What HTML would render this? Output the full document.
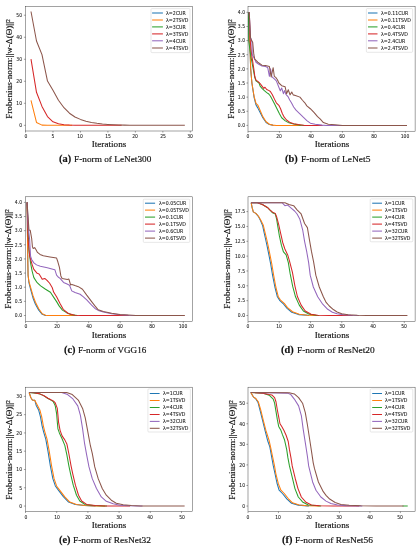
<!DOCTYPE html>
<html><head><meta charset="utf-8"><title>F-norm plots</title>
<style>html,body{margin:0;padding:0;background:#fff;}
body{position:relative;width:420px;height:550px;overflow:hidden;}
svg{display:block;position:absolute;left:0;top:0;}
.tk,.lg,.sr,.sb{position:absolute;transform-origin:0 0;white-space:nowrap;line-height:1;}
.tk,.lg{font-family:"DejaVu Sans",sans-serif;color:#1a1a1a;-webkit-text-stroke:0.8px #1a1a1a;}
.sr,.sb{font-family:"Liberation Serif",serif;color:#111;-webkit-text-stroke:1.5px #111;}
.sb{font-weight:bold;}</style></head>
<body><svg width="420" height="550" viewBox="0 0 420 550">
<rect width="420" height="550" fill="#fff"/>
<clipPath id="clipa"><rect x="25.5" y="6.4" width="167.00" height="124.60"/></clipPath>
<g clip-path="url(#clipa)" fill="none" stroke-width="1.05" stroke-linejoin="round" stroke-linecap="butt">
<polyline stroke="#ff7f0e" points="30.99,100.45 36.49,122.47 41.98,125.11 47.48,125.29 52.97,125.33 72.20,125.33"/>
<polyline stroke="#d62728" points="30.99,59.05 36.49,92.30 41.98,106.39 47.48,116.52 52.97,121.81 58.46,123.79 63.96,124.67 69.45,125.00 74.95,125.15 80.44,125.24 85.93,125.29 91.43,125.33 121.64,125.33"/>
<polyline stroke="#8c564b" points="30.99,11.49 36.49,40.99 41.98,54.65 47.48,81.07 52.97,90.32 58.46,100.23 63.96,107.71 69.45,113.22 74.95,116.96 80.44,119.38 85.93,121.15 91.43,122.47 96.92,123.35 102.42,124.01 107.91,124.45 113.40,124.78 118.90,125.00 124.39,125.11 129.89,125.22 135.38,125.26 140.87,125.33 184.83,125.33"/>
</g>
<rect x="25.5" y="6.4" width="167.00" height="124.60" fill="none" stroke="#333" stroke-width="0.45"/>
<path d="M25.50,131.0v1.6 M52.97,131.0v1.6 M80.44,131.0v1.6 M107.91,131.0v1.6 M135.38,131.0v1.6 M162.85,131.0v1.6 M190.32,131.0v1.6 M25.5,125.33h-1.6 M25.5,103.31h-1.6 M25.5,81.29h-1.6 M25.5,59.27h-1.6 M25.5,37.25h-1.6 M25.5,15.23h-1.6" stroke="#333" stroke-width="0.45" fill="none"/>
<rect x="151" y="8.6" width="39.00" height="44.00" rx="0.9" fill="#fff" fill-opacity="0.8" stroke="#ccc" stroke-width="0.45"/>
<line x1="152.1" y1="13" x2="162.9" y2="13" stroke="#1f77b4" stroke-width="1.05"/>
<line x1="152.1" y1="20" x2="162.9" y2="20" stroke="#ff7f0e" stroke-width="1.05"/>
<line x1="152.1" y1="26.9" x2="162.9" y2="26.9" stroke="#2ca02c" stroke-width="1.05"/>
<line x1="152.1" y1="33.9" x2="162.9" y2="33.9" stroke="#d62728" stroke-width="1.05"/>
<line x1="152.1" y1="40.8" x2="162.9" y2="40.8" stroke="#9467bd" stroke-width="1.05"/>
<line x1="152.1" y1="48" x2="162.9" y2="48" stroke="#8c564b" stroke-width="1.05"/>
<clipPath id="clipb"><rect x="248.0" y="6.5" width="167.10" height="124.70"/></clipPath>
<g clip-path="url(#clipb)" fill="none" stroke-width="1.05" stroke-linejoin="round" stroke-linecap="butt">
<polyline stroke="#1f77b4" points="249.26,12.32 249.81,40.59 250.20,54.44 250.68,68.86 251.31,76.21 251.94,83.28 254.14,97.70 256.03,105.05 257.76,107.87 260.28,112.68 262.80,117.77 266.10,122.57 269.41,124.55 272.71,125.12 273.50,125.40"/>
<polyline stroke="#ff7f0e" points="249.26,12.32 249.81,40.59 250.20,54.44 250.68,68.86 251.31,76.21 251.94,83.28 254.14,96.56 256.03,103.35 257.76,105.05 260.28,110.70 262.80,116.64 266.10,121.72 269.41,124.27 272.71,125.12 276.33,125.40 300.73,125.40"/>
<polyline stroke="#2ca02c" points="248.47,12.32 248.71,40.59 250.52,54.44 253.19,68.86 254.82,77.62 256.00,80.73 259.02,83.00 260.12,86.10 262.01,88.37 264.37,90.63 266.73,92.61 268.78,94.02 270.35,96.00 272.24,99.39 274.60,103.91 276.96,108.72 279.32,113.53 281.68,117.77 285.30,120.88 288.92,122.86 293.65,123.99 299.94,125.12 304.66,125.40 305.45,125.40"/>
<polyline stroke="#d62728" points="249.26,12.32 250.20,40.59 251.62,54.44 253.82,68.86 254.82,76.49 256.00,80.17 258.39,81.86 260.12,83.56 262.01,86.10 263.74,88.37 265.00,87.24 266.73,89.50 269.09,90.63 270.35,91.48 272.24,94.59 274.60,99.39 276.33,102.78 278.85,105.33 280.58,108.72 282.31,113.53 284.20,117.20 286.56,120.03 290.18,122.57 293.65,123.70 298.37,124.55 304.66,125.40 322.76,125.40"/>
<polyline stroke="#9467bd" points="249.26,12.32 250.05,29.28 250.52,37.76 251.94,41.44 252.25,54.44 255.24,60.38 256.00,62.22 258.39,64.05 261.99,66.03 265.42,66.60 267.68,67.45 269.41,76.30 270.51,68.86 272.00,76.86 273.18,77.91 274.60,79.15 276.33,80.87 278.28,85.71 280.27,90.85 281.68,88.00 283.42,93.71 284.52,90.57 285.93,94.30 287.98,96.56 289.71,99.96 291.44,102.78 293.65,107.02 296.01,110.13 299.63,113.53 303.25,117.20 306.87,120.59 310.33,123.14 315.21,124.27 321.98,125.12 326.70,125.40 343.23,125.40"/>
<polyline stroke="#8c564b" points="249.26,12.32 250.05,29.28 250.52,37.76 251.62,40.59 252.72,42.57 253.82,54.44 254.82,59.25 256.00,60.38 257.76,62.22 261.99,65.18 265.42,65.47 269.41,66.60 271.14,76.86 273.18,67.73 274.29,76.30 275.70,77.34 277.43,79.72 278.85,83.00 281.68,85.71 285.15,86.87 286.56,93.71 288.29,89.72 290.03,94.87 291.76,92.04 293.17,94.87 295.38,95.43 299.94,97.13 302.46,100.24 304.82,102.78 306.87,105.89 310.33,108.72 313.95,112.40 317.57,116.64 320.09,118.90 323.39,122.57 328.27,124.27 335.04,124.83 342.44,125.40 406.97,125.40"/>
</g>
<rect x="248.0" y="6.5" width="167.10" height="124.70" fill="none" stroke="#333" stroke-width="0.45"/>
<path d="M248.00,131.2v1.6 M279.48,131.2v1.6 M310.96,131.2v1.6 M342.44,131.2v1.6 M373.92,131.2v1.6 M405.40,131.2v1.6 M248.0,125.40h-1.6 M248.0,111.27h-1.6 M248.0,97.13h-1.6 M248.0,83.00h-1.6 M248.0,68.86h-1.6 M248.0,54.73h-1.6 M248.0,40.59h-1.6 M248.0,26.46h-1.6 M248.0,12.32h-1.6" stroke="#333" stroke-width="0.45" fill="none"/>
<rect x="366.4" y="8.6" width="46.20" height="43.70" rx="0.9" fill="#fff" fill-opacity="0.8" stroke="#ccc" stroke-width="0.45"/>
<line x1="368" y1="13" x2="377.5" y2="13" stroke="#1f77b4" stroke-width="1.05"/>
<line x1="368" y1="20" x2="377.5" y2="20" stroke="#ff7f0e" stroke-width="1.05"/>
<line x1="368" y1="26.9" x2="377.5" y2="26.9" stroke="#2ca02c" stroke-width="1.05"/>
<line x1="368" y1="33.9" x2="377.5" y2="33.9" stroke="#d62728" stroke-width="1.05"/>
<line x1="368" y1="40.8" x2="377.5" y2="40.8" stroke="#9467bd" stroke-width="1.05"/>
<line x1="368" y1="48" x2="377.5" y2="48" stroke="#8c564b" stroke-width="1.05"/>
<clipPath id="clipc"><rect x="25.5" y="196.8" width="167.00" height="124.70"/></clipPath>
<g clip-path="url(#clipc)" fill="none" stroke-width="1.05" stroke-linejoin="round" stroke-linecap="butt">
<polyline stroke="#1f77b4" points="27.08,202.38 27.55,241.97 27.87,264.60 28.10,275.34 28.97,282.98 30.55,289.20 33.00,297.97 35.44,304.19 38.76,310.13 42.23,314.37 45.54,315.50 46.33,315.50"/>
<polyline stroke="#ff7f0e" points="27.08,202.38 27.55,241.97 27.87,264.60 28.10,275.34 28.97,281.56 30.55,287.22 33.00,295.70 35.44,302.21 38.76,308.71 42.23,313.80 45.54,315.22 47.59,315.50 75.68,315.50"/>
<polyline stroke="#2ca02c" points="27.08,202.38 28.10,230.09 28.97,249.89 30.55,262.90 32.13,271.10 33.86,277.60 37.18,282.70 40.65,285.81 45.54,289.20 50.43,292.31 53.75,297.40 56.59,301.64 59.11,305.88 62.43,310.13 66.53,312.67 71.58,314.65 77.57,315.50"/>
<polyline stroke="#d62728" points="27.08,202.38 28.10,239.99 29.76,256.39 32.13,264.60 33.86,269.40 37.18,273.36 39.07,273.93 40.33,275.91 42.23,279.30 44.75,278.45 47.28,280.72 49.64,283.26 52.17,287.50 53.75,292.31 56.59,296.84 59.90,303.34 63.21,309.28 68.26,313.52 74.89,315.22 80.73,315.50 128.86,315.50"/>
<polyline stroke="#9467bd" points="27.08,202.38 28.34,228.40 29.60,239.14 30.55,256.11 31.65,259.51 33.86,262.90 36.55,264.88 40.33,266.29 47.28,267.71 53.75,269.40 54.85,269.69 56.59,275.06 58.16,277.04 60.06,278.45 63.53,282.41 66.53,283.83 69.53,285.24 71.74,290.90 75.05,292.59 80.10,294.29 83.41,296.84 86.73,299.95 91.62,305.04 94.93,308.43 98.25,310.41 103.30,312.11 111.66,313.80 120.18,314.65 128.07,315.22 135.96,315.50 136.75,315.50"/>
<polyline stroke="#8c564b" points="27.08,202.38 28.97,230.09 30.23,230.38 31.65,238.30 32.44,246.78 33.23,248.48 34.65,247.63 35.76,249.32 37.49,252.44 40.02,254.42 43.33,255.83 49.96,256.96 56.59,258.09 57.85,261.77 59.43,267.42 60.85,275.91 62.11,278.45 64.79,279.05 67.32,279.58 68.90,279.05 70.63,285.01 71.89,284.39 74.89,285.52 78.36,286.65 82.47,289.20 86.73,295.14 91.62,301.64 94.93,305.88 98.25,309.84 103.30,311.54 111.66,313.24 120.02,314.51 128.39,314.93 135.96,315.50 184.88,315.50"/>
</g>
<rect x="25.5" y="196.8" width="167.00" height="124.70" fill="none" stroke="#333" stroke-width="0.45"/>
<path d="M25.50,321.5v1.6 M57.06,321.5v1.6 M88.62,321.5v1.6 M120.18,321.5v1.6 M151.74,321.5v1.6 M183.30,321.5v1.6 M25.5,315.50h-1.6 M25.5,301.36h-1.6 M25.5,287.22h-1.6 M25.5,273.08h-1.6 M25.5,258.94h-1.6 M25.5,244.80h-1.6 M25.5,230.66h-1.6 M25.5,216.52h-1.6 M25.5,202.38h-1.6" stroke="#333" stroke-width="0.45" fill="none"/>
<rect x="143.3" y="199.2" width="46.50" height="43.20" rx="0.9" fill="#fff" fill-opacity="0.8" stroke="#ccc" stroke-width="0.45"/>
<line x1="145" y1="203.2" x2="155.1" y2="203.2" stroke="#1f77b4" stroke-width="1.05"/>
<line x1="145" y1="210.1" x2="155.1" y2="210.1" stroke="#ff7f0e" stroke-width="1.05"/>
<line x1="145" y1="217.1" x2="155.1" y2="217.1" stroke="#2ca02c" stroke-width="1.05"/>
<line x1="145" y1="224.1" x2="155.1" y2="224.1" stroke="#d62728" stroke-width="1.05"/>
<line x1="145" y1="231.1" x2="155.1" y2="231.1" stroke="#9467bd" stroke-width="1.05"/>
<line x1="145" y1="238.1" x2="155.1" y2="238.1" stroke="#8c564b" stroke-width="1.05"/>
<clipPath id="clipd"><rect x="248.0" y="196.8" width="167.10" height="124.70"/></clipPath>
<g clip-path="url(#clipd)" fill="none" stroke-width="1.05" stroke-linejoin="round" stroke-linecap="butt">
<polyline stroke="#1f77b4" points="251.13,202.70 252.13,207.68 253.31,211.90 255.81,213.38 258.32,216.35 260.50,220.51 262.69,225.85 263.94,231.79 265.66,239.51 267.22,246.63 268.79,254.35 270.66,263.85 272.54,275.13 274.88,287.00 277.38,296.80 279.89,300.66 283.64,304.22 287.07,308.38 291.76,312.23 298.64,314.61 307.39,315.32 308.96,315.50"/>
<polyline stroke="#ff7f0e" points="251.13,202.70 252.13,207.68 253.31,211.90 255.81,213.38 258.32,216.00 260.82,220.21 263.32,225.26 264.88,231.79 266.76,239.51 268.32,246.63 269.88,254.35 271.76,263.85 273.63,275.13 275.82,287.00 278.32,296.80 280.51,300.06 284.26,303.45 287.54,307.60 292.55,311.76 299.27,314.31 307.39,315.20 316.77,315.50 317.40,315.50"/>
<polyline stroke="#2ca02c" points="251.13,202.70 257.38,202.70 262.38,204.48 267.38,207.45 269.82,209.82 272.57,212.79 275.29,213.98 276.67,219.32 278.01,227.63 279.39,235.94 281.45,245.44 283.48,251.97 286.14,254.94 288.33,262.66 290.20,273.94 292.70,286.41 295.52,296.80 299.27,305.11 303.33,310.93 309.27,314.31 315.83,315.20 319.27,315.50"/>
<polyline stroke="#d62728" points="251.13,202.70 257.38,202.70 262.38,204.48 267.38,207.45 269.82,209.82 272.57,212.20 275.29,213.38 276.67,216.95 278.70,224.66 280.82,234.16 282.70,242.47 284.89,249.01 287.70,254.94 289.58,261.47 292.39,272.16 294.89,285.81 297.39,296.50 301.14,305.11 305.21,310.93 311.15,314.31 317.71,315.20 329.28,315.50 352.72,315.50"/>
<polyline stroke="#9467bd" points="251.13,202.70 282.07,202.70 284.89,205.67 287.70,205.07 291.76,208.63 294.58,211.01 297.08,213.98 299.89,219.32 302.70,230.01 304.58,241.29 306.77,251.97 308.64,262.66 310.21,275.13 313.33,287.00 317.71,296.80 322.71,304.22 327.71,309.27 332.40,312.23 337.09,313.72 342.72,314.61 351.16,315.20 358.97,315.50"/>
<polyline stroke="#8c564b" points="251.13,202.70 284.89,202.70 288.95,204.48 293.64,205.67 297.08,209.82 301.14,213.98 304.58,223.48 307.39,227.63 309.58,240.69 311.46,251.38 313.65,262.07 315.83,275.13 319.27,287.00 323.34,296.80 326.15,302.44 329.28,306.00 333.34,309.56 337.09,311.94 341.78,313.72 348.03,314.73 357.41,315.26 366.79,315.50 407.43,315.50"/>
</g>
<rect x="248.0" y="196.8" width="167.10" height="124.70" fill="none" stroke="#333" stroke-width="0.45"/>
<path d="M248.00,321.5v1.6 M279.26,321.5v1.6 M310.52,321.5v1.6 M341.78,321.5v1.6 M373.04,321.5v1.6 M404.30,321.5v1.6 M248.0,315.50h-1.6 M248.0,300.66h-1.6 M248.0,285.81h-1.6 M248.0,270.97h-1.6 M248.0,256.13h-1.6 M248.0,241.29h-1.6 M248.0,226.44h-1.6 M248.0,211.60h-1.6" stroke="#333" stroke-width="0.45" fill="none"/>
<rect x="370.2" y="198.9" width="42.60" height="42.90" rx="0.9" fill="#fff" fill-opacity="0.8" stroke="#ccc" stroke-width="0.45"/>
<line x1="372.2" y1="203.2" x2="382" y2="203.2" stroke="#1f77b4" stroke-width="1.05"/>
<line x1="372.2" y1="210.1" x2="382" y2="210.1" stroke="#ff7f0e" stroke-width="1.05"/>
<line x1="372.2" y1="217.1" x2="382" y2="217.1" stroke="#2ca02c" stroke-width="1.05"/>
<line x1="372.2" y1="224.1" x2="382" y2="224.1" stroke="#d62728" stroke-width="1.05"/>
<line x1="372.2" y1="231.1" x2="382" y2="231.1" stroke="#9467bd" stroke-width="1.05"/>
<line x1="372.2" y1="238.1" x2="382" y2="238.1" stroke="#8c564b" stroke-width="1.05"/>
<clipPath id="clipe"><rect x="25.5" y="387.2" width="167.00" height="124.20"/></clipPath>
<g clip-path="url(#clipe)" fill="none" stroke-width="1.05" stroke-linejoin="round" stroke-linecap="butt">
<polyline stroke="#1f77b4" points="29.12,392.46 30.80,397.47 32.36,400.03 34.86,400.39 36.11,405.14 38.60,409.90 40.48,416.84 42.04,425.62 43.60,431.83 45.78,439.15 47.96,451.21 50.34,465.83 52.83,478.63 55.33,485.94 58.57,490.33 63.56,496.91 68.56,502.03 75.26,504.40 84.78,505.57 94.14,505.98 95.70,506.05"/>
<polyline stroke="#ff7f0e" points="29.12,392.46 30.80,397.47 32.36,400.03 34.86,400.39 37.36,405.14 39.85,409.90 41.72,416.84 43.28,425.62 44.84,431.83 47.03,439.15 49.21,451.21 51.58,465.83 54.08,478.63 56.58,485.94 59.82,490.33 64.81,496.91 69.80,502.03 76.51,504.40 84.78,505.57 94.14,505.98 103.50,506.05 105.06,506.05"/>
<polyline stroke="#2ca02c" points="29.12,392.46 33.61,392.90 39.23,393.81 43.60,395.64 47.96,398.56 51.40,400.39 53.21,401.49 55.26,405.88 56.64,413.92 57.32,422.33 57.95,428.91 59.38,432.93 62.07,438.78 64.81,445.36 66.87,454.87 68.87,465.83 70.74,474.61 73.24,485.21 76.51,495.23 79.79,501.04 84.78,504.40 93.20,505.57 103.50,505.98 106.93,506.05"/>
<polyline stroke="#d62728" points="29.12,392.46 33.61,392.82 39.23,393.63 43.60,395.46 47.96,398.20 51.40,400.03 53.58,401.12 55.26,402.95 57.32,408.43 57.95,415.38 58.57,422.33 60.07,430.37 62.07,435.85 64.81,439.88 66.87,443.90 68.87,453.77 71.05,465.83 72.92,474.61 75.42,485.21 78.54,495.23 81.66,501.04 86.65,504.40 95.08,505.57 105.37,505.98 115.98,506.05 130.02,506.05"/>
<polyline stroke="#9467bd" points="29.12,392.46 61.69,392.46 67.62,394.54 72.92,398.93 77.76,405.88 80.41,415.38 82.60,428.91 84.47,442.80 86.65,454.87 88.99,466.93 92.27,478.63 96.48,488.50 101.32,496.91 106.31,501.30 113.17,503.86 119.72,505.21 128.46,505.76 137.82,505.98 142.50,506.05"/>
<polyline stroke="#8c564b" points="29.12,392.46 66.68,392.46 72.30,394.54 78.54,400.39 82.60,408.43 85.25,417.94 86.96,427.08 88.84,437.32 90.40,445.73 92.27,453.40 94.76,466.93 98.20,478.63 102.25,488.50 106.31,495.23 111.30,500.24 116.29,503.23 123.16,504.73 131.27,505.57 140.94,505.90 153.42,506.05 184.62,506.05"/>
</g>
<rect x="25.5" y="387.2" width="167.00" height="124.20" fill="none" stroke="#333" stroke-width="0.45"/>
<path d="M25.50,511.4v1.6 M56.70,511.4v1.6 M87.90,511.4v1.6 M119.10,511.4v1.6 M150.30,511.4v1.6 M181.50,511.4v1.6 M25.5,506.05h-1.6 M25.5,487.77h-1.6 M25.5,469.49h-1.6 M25.5,451.21h-1.6 M25.5,432.93h-1.6 M25.5,414.65h-1.6 M25.5,396.37h-1.6" stroke="#333" stroke-width="0.45" fill="none"/>
<rect x="147.9" y="388.9" width="42.50" height="43.10" rx="0.9" fill="#fff" fill-opacity="0.8" stroke="#ccc" stroke-width="0.45"/>
<line x1="149.8" y1="393.5" x2="159.6" y2="393.5" stroke="#1f77b4" stroke-width="1.05"/>
<line x1="149.8" y1="400.5" x2="159.6" y2="400.5" stroke="#ff7f0e" stroke-width="1.05"/>
<line x1="149.8" y1="407.5" x2="159.6" y2="407.5" stroke="#2ca02c" stroke-width="1.05"/>
<line x1="149.8" y1="414.5" x2="159.6" y2="414.5" stroke="#d62728" stroke-width="1.05"/>
<line x1="149.8" y1="421.4" x2="159.6" y2="421.4" stroke="#9467bd" stroke-width="1.05"/>
<line x1="149.8" y1="428.3" x2="159.6" y2="428.3" stroke="#8c564b" stroke-width="1.05"/>
<clipPath id="clipf"><rect x="248.0" y="387.2" width="167.10" height="124.30"/></clipPath>
<g clip-path="url(#clipf)" fill="none" stroke-width="1.05" stroke-linejoin="round" stroke-linecap="butt">
<polyline stroke="#1f77b4" points="250.80,392.50 253.30,396.82 255.80,398.88 258.06,402.58 260.19,410.81 262.63,420.68 265.07,430.56 267.51,440.23 269.82,446.81 271.65,456.89 273.30,465.94 275.01,473.55 276.96,483.01 279.09,490.21 282.44,493.50 287.01,499.06 291.59,503.25 298.29,505.12 307.44,505.89 308.96,506.05"/>
<polyline stroke="#ff7f0e" points="250.80,392.50 253.30,396.82 255.80,398.47 258.30,401.76 260.80,410.19 263.24,420.07 265.83,430.15 269.03,440.23 270.86,448.45 272.57,456.68 274.52,465.94 275.83,473.55 278.33,483.63 280.92,490.21 284.27,493.50 288.23,498.54 292.50,502.76 299.21,504.92 307.44,505.84 318.10,506.05 319.63,506.05"/>
<polyline stroke="#2ca02c" points="402.53,506.05 407.72,506.05"/>
<polyline stroke="#2ca02c" points="250.80,392.50 262.48,393.12 269.15,395.18 273.24,399.09 274.61,403.20 275.98,411.43 277.35,419.66 278.69,426.44 280.74,429.94 282.44,434.67 284.58,440.02 286.71,449.69 287.93,457.92 289.45,465.94 292.50,478.49 294.94,488.57 298.29,497.00 302.56,501.94 308.35,504.92 318.10,505.84 321.15,506.05"/>
<polyline stroke="#d62728" points="250.80,392.50 262.48,393.12 269.15,394.56 271.77,394.97 274.61,397.65 275.98,401.76 277.35,409.99 278.69,416.78 280.00,423.77 282.05,427.06 283.97,430.56 286.10,435.29 288.23,441.46 289.45,449.69 290.98,457.92 292.20,465.94 295.24,478.49 297.99,488.57 301.34,497.00 305.61,501.94 311.40,504.92 319.63,505.84 333.34,506.05 359.25,506.05"/>
<polyline stroke="#9467bd" points="250.80,392.50 287.53,393.12 290.85,394.56 294.33,399.09 298.60,405.87 301.34,415.54 303.17,429.12 305.30,442.69 307.44,456.48 308.66,465.94 309.26,468.41 312.62,481.98 315.97,490.21 320.85,497.00 326.03,501.11 330.91,503.58 337.61,505.02 345.54,505.64 357.73,505.95 362.30,506.05"/>
<polyline stroke="#8c564b" points="250.80,392.50 289.15,392.71 294.33,393.94 298.60,397.65 302.56,403.20 305.30,412.66 307.44,425.00 309.57,438.79 311.70,452.57 313.23,462.85 314.45,468.41 318.41,481.98 323.29,491.65 326.03,495.35 329.69,499.06 335.17,502.55 340.96,504.40 349.19,505.33 360.78,505.84 376.02,506.05 403.45,506.05"/>
</g>
<rect x="248.0" y="387.2" width="167.10" height="124.30" fill="none" stroke="#333" stroke-width="0.45"/>
<path d="M248.00,511.5v1.6 M278.48,511.5v1.6 M308.96,511.5v1.6 M339.44,511.5v1.6 M369.92,511.5v1.6 M400.40,511.5v1.6 M248.0,506.05h-1.6 M248.0,485.48h-1.6 M248.0,464.91h-1.6 M248.0,444.34h-1.6 M248.0,423.77h-1.6 M248.0,403.20h-1.6" stroke="#333" stroke-width="0.45" fill="none"/>
<rect x="370.2" y="388.9" width="42.60" height="43.10" rx="0.9" fill="#fff" fill-opacity="0.8" stroke="#ccc" stroke-width="0.45"/>
<line x1="372.2" y1="393.5" x2="382" y2="393.5" stroke="#1f77b4" stroke-width="1.05"/>
<line x1="372.2" y1="400.5" x2="382" y2="400.5" stroke="#ff7f0e" stroke-width="1.05"/>
<line x1="372.2" y1="407.5" x2="382" y2="407.5" stroke="#2ca02c" stroke-width="1.05"/>
<line x1="372.2" y1="414.5" x2="382" y2="414.5" stroke="#d62728" stroke-width="1.05"/>
<line x1="372.2" y1="421.4" x2="382" y2="421.4" stroke="#9467bd" stroke-width="1.05"/>
<line x1="372.2" y1="428.3" x2="382" y2="428.3" stroke="#8c564b" stroke-width="1.05"/>
</svg>
<div class="tk" style="left:25.50px;top:137.60px;font-size:45.0px;transform:scale(0.1) translate(-50%,-38.1px)">0</div>
<div class="tk" style="left:52.97px;top:137.60px;font-size:45.0px;transform:scale(0.1) translate(-50%,-38.1px)">5</div>
<div class="tk" style="left:80.44px;top:137.60px;font-size:45.0px;transform:scale(0.1) translate(-50%,-38.1px)">10</div>
<div class="tk" style="left:107.91px;top:137.60px;font-size:45.0px;transform:scale(0.1) translate(-50%,-38.1px)">15</div>
<div class="tk" style="left:135.38px;top:137.60px;font-size:45.0px;transform:scale(0.1) translate(-50%,-38.1px)">20</div>
<div class="tk" style="left:162.85px;top:137.60px;font-size:45.0px;transform:scale(0.1) translate(-50%,-38.1px)">25</div>
<div class="tk" style="left:190.32px;top:137.60px;font-size:45.0px;transform:scale(0.1) translate(-50%,-38.1px)">30</div>
<div class="tk" style="left:22.40px;top:127.15px;font-size:45.0px;transform:scale(0.1) translate(-100%,-38.1px)">0</div>
<div class="tk" style="left:22.40px;top:105.13px;font-size:45.0px;transform:scale(0.1) translate(-100%,-38.1px)">10</div>
<div class="tk" style="left:22.40px;top:83.11px;font-size:45.0px;transform:scale(0.1) translate(-100%,-38.1px)">20</div>
<div class="tk" style="left:22.40px;top:61.09px;font-size:45.0px;transform:scale(0.1) translate(-100%,-38.1px)">30</div>
<div class="tk" style="left:22.40px;top:39.07px;font-size:45.0px;transform:scale(0.1) translate(-100%,-38.1px)">40</div>
<div class="tk" style="left:22.40px;top:17.05px;font-size:45.0px;transform:scale(0.1) translate(-100%,-38.1px)">50</div>
<div class="lg" style="left:166.20px;top:14.90px;font-size:47.0px;transform:scale(0.1) translateY(-39.8px)">λ=2CUR</div>
<div class="lg" style="left:166.20px;top:21.90px;font-size:47.0px;transform:scale(0.1) translateY(-39.8px)">λ=2TSVD</div>
<div class="lg" style="left:166.20px;top:28.80px;font-size:47.0px;transform:scale(0.1) translateY(-39.8px)">λ=3CUR</div>
<div class="lg" style="left:166.20px;top:35.80px;font-size:47.0px;transform:scale(0.1) translateY(-39.8px)">λ=3TSVD</div>
<div class="lg" style="left:166.20px;top:42.70px;font-size:47.0px;transform:scale(0.1) translateY(-39.8px)">λ=4CUR</div>
<div class="lg" style="left:166.20px;top:49.90px;font-size:47.0px;transform:scale(0.1) translateY(-39.8px)">λ=4TSVD</div>
<div class="sr" style="left:109.00px;top:147.30px;font-size:91.5px;transform:scale(0.1) translate(-50%,-76.6px)">Iterations</div>
<div class="sr" style="left:12.20px;top:69.00px;font-size:91.2px;transform:rotate(-90deg) scale(0.1) translate(-50%,-76.3px)">Frobenius-norm:||w-Δ(Θ)||²</div>
<div class="sb" style="left:58.60px;top:162.10px;font-size:104.0px;transform:scale(0.1) translateY(-87.0px)">(a)</div>
<div class="sr" style="left:73.64px;top:162.10px;font-size:79.0px;transform:scale(0.1175,0.1) translateY(-66.1px)">F-norm of LeNet300</div>
<div class="tk" style="left:248.00px;top:137.80px;font-size:45.0px;transform:scale(0.1) translate(-50%,-38.1px)">0</div>
<div class="tk" style="left:279.48px;top:137.80px;font-size:45.0px;transform:scale(0.1) translate(-50%,-38.1px)">20</div>
<div class="tk" style="left:310.96px;top:137.80px;font-size:45.0px;transform:scale(0.1) translate(-50%,-38.1px)">40</div>
<div class="tk" style="left:342.44px;top:137.80px;font-size:45.0px;transform:scale(0.1) translate(-50%,-38.1px)">60</div>
<div class="tk" style="left:373.92px;top:137.80px;font-size:45.0px;transform:scale(0.1) translate(-50%,-38.1px)">80</div>
<div class="tk" style="left:405.40px;top:137.80px;font-size:45.0px;transform:scale(0.1) translate(-50%,-38.1px)">100</div>
<div class="tk" style="left:244.90px;top:127.22px;font-size:45.0px;transform:scale(0.1) translate(-100%,-38.1px)">0.0</div>
<div class="tk" style="left:244.90px;top:113.08px;font-size:45.0px;transform:scale(0.1) translate(-100%,-38.1px)">0.5</div>
<div class="tk" style="left:244.90px;top:98.95px;font-size:45.0px;transform:scale(0.1) translate(-100%,-38.1px)">1.0</div>
<div class="tk" style="left:244.90px;top:84.81px;font-size:45.0px;transform:scale(0.1) translate(-100%,-38.1px)">1.5</div>
<div class="tk" style="left:244.90px;top:70.68px;font-size:45.0px;transform:scale(0.1) translate(-100%,-38.1px)">2.0</div>
<div class="tk" style="left:244.90px;top:56.55px;font-size:45.0px;transform:scale(0.1) translate(-100%,-38.1px)">2.5</div>
<div class="tk" style="left:244.90px;top:42.41px;font-size:45.0px;transform:scale(0.1) translate(-100%,-38.1px)">3.0</div>
<div class="tk" style="left:244.90px;top:28.28px;font-size:45.0px;transform:scale(0.1) translate(-100%,-38.1px)">3.5</div>
<div class="tk" style="left:244.90px;top:14.14px;font-size:45.0px;transform:scale(0.1) translate(-100%,-38.1px)">4.0</div>
<div class="lg" style="left:381.10px;top:14.90px;font-size:47.0px;transform:scale(0.1) translateY(-39.8px)">λ=0.11CUR</div>
<div class="lg" style="left:381.10px;top:21.90px;font-size:47.0px;transform:scale(0.1) translateY(-39.8px)">λ=0.11TSVD</div>
<div class="lg" style="left:381.10px;top:28.80px;font-size:47.0px;transform:scale(0.1) translateY(-39.8px)">λ=0.4CUR</div>
<div class="lg" style="left:381.10px;top:35.80px;font-size:47.0px;transform:scale(0.1) translateY(-39.8px)">λ=0.4TSVD</div>
<div class="lg" style="left:381.10px;top:42.70px;font-size:47.0px;transform:scale(0.1) translateY(-39.8px)">λ=2.4CUR</div>
<div class="lg" style="left:381.10px;top:49.90px;font-size:47.0px;transform:scale(0.1) translateY(-39.8px)">λ=2.4TSVD</div>
<div class="sr" style="left:331.55px;top:147.30px;font-size:91.5px;transform:scale(0.1) translate(-50%,-76.6px)">Iterations</div>
<div class="sr" style="left:233.50px;top:69.15px;font-size:91.2px;transform:rotate(-90deg) scale(0.1) translate(-50%,-76.3px)">Frobenius-norm:||w-Δ(Θ)||²</div>
<div class="sb" style="left:284.90px;top:162.10px;font-size:104.0px;transform:scale(0.1) translateY(-87.0px)">(b)</div>
<div class="sr" style="left:300.52px;top:162.10px;font-size:79.0px;transform:scale(0.1199,0.1) translateY(-66.1px)">F-norm of LeNet5</div>
<div class="tk" style="left:25.50px;top:328.10px;font-size:45.0px;transform:scale(0.1) translate(-50%,-38.1px)">0</div>
<div class="tk" style="left:57.06px;top:328.10px;font-size:45.0px;transform:scale(0.1) translate(-50%,-38.1px)">20</div>
<div class="tk" style="left:88.62px;top:328.10px;font-size:45.0px;transform:scale(0.1) translate(-50%,-38.1px)">40</div>
<div class="tk" style="left:120.18px;top:328.10px;font-size:45.0px;transform:scale(0.1) translate(-50%,-38.1px)">60</div>
<div class="tk" style="left:151.74px;top:328.10px;font-size:45.0px;transform:scale(0.1) translate(-50%,-38.1px)">80</div>
<div class="tk" style="left:183.30px;top:328.10px;font-size:45.0px;transform:scale(0.1) translate(-50%,-38.1px)">100</div>
<div class="tk" style="left:22.40px;top:317.32px;font-size:45.0px;transform:scale(0.1) translate(-100%,-38.1px)">0.0</div>
<div class="tk" style="left:22.40px;top:303.18px;font-size:45.0px;transform:scale(0.1) translate(-100%,-38.1px)">0.5</div>
<div class="tk" style="left:22.40px;top:289.04px;font-size:45.0px;transform:scale(0.1) translate(-100%,-38.1px)">1.0</div>
<div class="tk" style="left:22.40px;top:274.90px;font-size:45.0px;transform:scale(0.1) translate(-100%,-38.1px)">1.5</div>
<div class="tk" style="left:22.40px;top:260.76px;font-size:45.0px;transform:scale(0.1) translate(-100%,-38.1px)">2.0</div>
<div class="tk" style="left:22.40px;top:246.62px;font-size:45.0px;transform:scale(0.1) translate(-100%,-38.1px)">2.5</div>
<div class="tk" style="left:22.40px;top:232.48px;font-size:45.0px;transform:scale(0.1) translate(-100%,-38.1px)">3.0</div>
<div class="tk" style="left:22.40px;top:218.34px;font-size:45.0px;transform:scale(0.1) translate(-100%,-38.1px)">3.5</div>
<div class="tk" style="left:22.40px;top:204.20px;font-size:45.0px;transform:scale(0.1) translate(-100%,-38.1px)">4.0</div>
<div class="lg" style="left:159.20px;top:205.10px;font-size:47.0px;transform:scale(0.1) translateY(-39.8px)">λ=0.05CUR</div>
<div class="lg" style="left:159.20px;top:212.00px;font-size:47.0px;transform:scale(0.1) translateY(-39.8px)">λ=0.05TSVD</div>
<div class="lg" style="left:159.20px;top:219.00px;font-size:47.0px;transform:scale(0.1) translateY(-39.8px)">λ=0.1CUR</div>
<div class="lg" style="left:159.20px;top:226.00px;font-size:47.0px;transform:scale(0.1) translateY(-39.8px)">λ=0.1TSVD</div>
<div class="lg" style="left:159.20px;top:233.00px;font-size:47.0px;transform:scale(0.1) translateY(-39.8px)">λ=0.6CUR</div>
<div class="lg" style="left:159.20px;top:240.00px;font-size:47.0px;transform:scale(0.1) translateY(-39.8px)">λ=0.6TSVD</div>
<div class="sr" style="left:109.00px;top:338.00px;font-size:91.5px;transform:scale(0.1) translate(-50%,-76.6px)">Iterations</div>
<div class="sr" style="left:10.90px;top:259.45px;font-size:91.2px;transform:rotate(-90deg) scale(0.1) translate(-50%,-76.3px)">Frobenius-norm:||w-Δ(Θ)||²</div>
<div class="sb" style="left:63.90px;top:352.60px;font-size:104.0px;transform:scale(0.1) translateY(-87.0px)">(c)</div>
<div class="sr" style="left:78.35px;top:352.60px;font-size:79.0px;transform:scale(0.1156,0.1) translateY(-66.1px)">F-norm of VGG16</div>
<div class="tk" style="left:248.00px;top:328.10px;font-size:45.0px;transform:scale(0.1) translate(-50%,-38.1px)">0</div>
<div class="tk" style="left:279.26px;top:328.10px;font-size:45.0px;transform:scale(0.1) translate(-50%,-38.1px)">10</div>
<div class="tk" style="left:310.52px;top:328.10px;font-size:45.0px;transform:scale(0.1) translate(-50%,-38.1px)">20</div>
<div class="tk" style="left:341.78px;top:328.10px;font-size:45.0px;transform:scale(0.1) translate(-50%,-38.1px)">30</div>
<div class="tk" style="left:373.04px;top:328.10px;font-size:45.0px;transform:scale(0.1) translate(-50%,-38.1px)">40</div>
<div class="tk" style="left:404.30px;top:328.10px;font-size:45.0px;transform:scale(0.1) translate(-50%,-38.1px)">50</div>
<div class="tk" style="left:244.90px;top:317.32px;font-size:45.0px;transform:scale(0.1) translate(-100%,-38.1px)">0.0</div>
<div class="tk" style="left:244.90px;top:302.48px;font-size:45.0px;transform:scale(0.1) translate(-100%,-38.1px)">2.5</div>
<div class="tk" style="left:244.90px;top:287.63px;font-size:45.0px;transform:scale(0.1) translate(-100%,-38.1px)">5.0</div>
<div class="tk" style="left:244.90px;top:272.79px;font-size:45.0px;transform:scale(0.1) translate(-100%,-38.1px)">7.5</div>
<div class="tk" style="left:244.90px;top:257.95px;font-size:45.0px;transform:scale(0.1) translate(-100%,-38.1px)">10.0</div>
<div class="tk" style="left:244.90px;top:243.11px;font-size:45.0px;transform:scale(0.1) translate(-100%,-38.1px)">12.5</div>
<div class="tk" style="left:244.90px;top:228.26px;font-size:45.0px;transform:scale(0.1) translate(-100%,-38.1px)">15.0</div>
<div class="tk" style="left:244.90px;top:213.42px;font-size:45.0px;transform:scale(0.1) translate(-100%,-38.1px)">17.5</div>
<div class="lg" style="left:385.30px;top:205.10px;font-size:47.0px;transform:scale(0.1) translateY(-39.8px)">λ=1CUR</div>
<div class="lg" style="left:385.30px;top:212.00px;font-size:47.0px;transform:scale(0.1) translateY(-39.8px)">λ=1TSVD</div>
<div class="lg" style="left:385.30px;top:219.00px;font-size:47.0px;transform:scale(0.1) translateY(-39.8px)">λ=4CUR</div>
<div class="lg" style="left:385.30px;top:226.00px;font-size:47.0px;transform:scale(0.1) translateY(-39.8px)">λ=4TSVD</div>
<div class="lg" style="left:385.30px;top:233.00px;font-size:47.0px;transform:scale(0.1) translateY(-39.8px)">λ=32CUR</div>
<div class="lg" style="left:385.30px;top:240.00px;font-size:47.0px;transform:scale(0.1) translateY(-39.8px)">λ=32TSVD</div>
<div class="sr" style="left:331.55px;top:338.00px;font-size:91.5px;transform:scale(0.1) translate(-50%,-76.6px)">Iterations</div>
<div class="sr" style="left:230.10px;top:259.45px;font-size:91.2px;transform:rotate(-90deg) scale(0.1) translate(-50%,-76.3px)">Frobenius-norm:||w-Δ(Θ)||²</div>
<div class="sb" style="left:281.00px;top:352.60px;font-size:104.0px;transform:scale(0.1) translateY(-87.0px)">(d)</div>
<div class="sr" style="left:296.62px;top:352.60px;font-size:79.0px;transform:scale(0.1188,0.1) translateY(-66.1px)">F-norm of ResNet20</div>
<div class="tk" style="left:25.50px;top:518.60px;font-size:45.0px;transform:scale(0.1) translate(-50%,-38.1px)">0</div>
<div class="tk" style="left:56.70px;top:518.60px;font-size:45.0px;transform:scale(0.1) translate(-50%,-38.1px)">10</div>
<div class="tk" style="left:87.90px;top:518.60px;font-size:45.0px;transform:scale(0.1) translate(-50%,-38.1px)">20</div>
<div class="tk" style="left:119.10px;top:518.60px;font-size:45.0px;transform:scale(0.1) translate(-50%,-38.1px)">30</div>
<div class="tk" style="left:150.30px;top:518.60px;font-size:45.0px;transform:scale(0.1) translate(-50%,-38.1px)">40</div>
<div class="tk" style="left:181.50px;top:518.60px;font-size:45.0px;transform:scale(0.1) translate(-50%,-38.1px)">50</div>
<div class="tk" style="left:22.40px;top:507.87px;font-size:45.0px;transform:scale(0.1) translate(-100%,-38.1px)">0</div>
<div class="tk" style="left:22.40px;top:489.59px;font-size:45.0px;transform:scale(0.1) translate(-100%,-38.1px)">5</div>
<div class="tk" style="left:22.40px;top:471.31px;font-size:45.0px;transform:scale(0.1) translate(-100%,-38.1px)">10</div>
<div class="tk" style="left:22.40px;top:453.03px;font-size:45.0px;transform:scale(0.1) translate(-100%,-38.1px)">15</div>
<div class="tk" style="left:22.40px;top:434.75px;font-size:45.0px;transform:scale(0.1) translate(-100%,-38.1px)">20</div>
<div class="tk" style="left:22.40px;top:416.47px;font-size:45.0px;transform:scale(0.1) translate(-100%,-38.1px)">25</div>
<div class="tk" style="left:22.40px;top:398.19px;font-size:45.0px;transform:scale(0.1) translate(-100%,-38.1px)">30</div>
<div class="lg" style="left:163.30px;top:395.40px;font-size:47.0px;transform:scale(0.1) translateY(-39.8px)">λ=1CUR</div>
<div class="lg" style="left:163.30px;top:402.40px;font-size:47.0px;transform:scale(0.1) translateY(-39.8px)">λ=1TSVD</div>
<div class="lg" style="left:163.30px;top:409.40px;font-size:47.0px;transform:scale(0.1) translateY(-39.8px)">λ=4CUR</div>
<div class="lg" style="left:163.30px;top:416.40px;font-size:47.0px;transform:scale(0.1) translateY(-39.8px)">λ=4TSVD</div>
<div class="lg" style="left:163.30px;top:423.30px;font-size:47.0px;transform:scale(0.1) translateY(-39.8px)">λ=32CUR</div>
<div class="lg" style="left:163.30px;top:430.20px;font-size:47.0px;transform:scale(0.1) translateY(-39.8px)">λ=32TSVD</div>
<div class="sr" style="left:109.00px;top:528.40px;font-size:91.5px;transform:scale(0.1) translate(-50%,-76.6px)">Iterations</div>
<div class="sr" style="left:12.20px;top:449.60px;font-size:91.2px;transform:rotate(-90deg) scale(0.1) translate(-50%,-76.3px)">Frobenius-norm:||w-Δ(Θ)||²</div>
<div class="sb" style="left:58.60px;top:543.30px;font-size:104.0px;transform:scale(0.1) translateY(-87.0px)">(e)</div>
<div class="sr" style="left:73.05px;top:543.30px;font-size:79.0px;transform:scale(0.1192,0.1) translateY(-66.1px)">F-norm of ResNet32</div>
<div class="tk" style="left:248.00px;top:518.70px;font-size:45.0px;transform:scale(0.1) translate(-50%,-38.1px)">0</div>
<div class="tk" style="left:278.48px;top:518.70px;font-size:45.0px;transform:scale(0.1) translate(-50%,-38.1px)">10</div>
<div class="tk" style="left:308.96px;top:518.70px;font-size:45.0px;transform:scale(0.1) translate(-50%,-38.1px)">20</div>
<div class="tk" style="left:339.44px;top:518.70px;font-size:45.0px;transform:scale(0.1) translate(-50%,-38.1px)">30</div>
<div class="tk" style="left:369.92px;top:518.70px;font-size:45.0px;transform:scale(0.1) translate(-50%,-38.1px)">40</div>
<div class="tk" style="left:400.40px;top:518.70px;font-size:45.0px;transform:scale(0.1) translate(-50%,-38.1px)">50</div>
<div class="tk" style="left:244.90px;top:507.87px;font-size:45.0px;transform:scale(0.1) translate(-100%,-38.1px)">0</div>
<div class="tk" style="left:244.90px;top:487.30px;font-size:45.0px;transform:scale(0.1) translate(-100%,-38.1px)">10</div>
<div class="tk" style="left:244.90px;top:466.73px;font-size:45.0px;transform:scale(0.1) translate(-100%,-38.1px)">20</div>
<div class="tk" style="left:244.90px;top:446.16px;font-size:45.0px;transform:scale(0.1) translate(-100%,-38.1px)">30</div>
<div class="tk" style="left:244.90px;top:425.59px;font-size:45.0px;transform:scale(0.1) translate(-100%,-38.1px)">40</div>
<div class="tk" style="left:244.90px;top:405.02px;font-size:45.0px;transform:scale(0.1) translate(-100%,-38.1px)">50</div>
<div class="lg" style="left:385.30px;top:395.40px;font-size:47.0px;transform:scale(0.1) translateY(-39.8px)">λ=1CUR</div>
<div class="lg" style="left:385.30px;top:402.40px;font-size:47.0px;transform:scale(0.1) translateY(-39.8px)">λ=1TSVD</div>
<div class="lg" style="left:385.30px;top:409.40px;font-size:47.0px;transform:scale(0.1) translateY(-39.8px)">λ=4CUR</div>
<div class="lg" style="left:385.30px;top:416.40px;font-size:47.0px;transform:scale(0.1) translateY(-39.8px)">λ=4TSVD</div>
<div class="lg" style="left:385.30px;top:423.30px;font-size:47.0px;transform:scale(0.1) translateY(-39.8px)">λ=32CUR</div>
<div class="lg" style="left:385.30px;top:430.20px;font-size:47.0px;transform:scale(0.1) translateY(-39.8px)">λ=32TSVD</div>
<div class="sr" style="left:331.55px;top:528.40px;font-size:91.5px;transform:scale(0.1) translate(-50%,-76.6px)">Iterations</div>
<div class="sr" style="left:234.60px;top:449.65px;font-size:91.2px;transform:rotate(-90deg) scale(0.1) translate(-50%,-76.3px)">Frobenius-norm:||w-Δ(Θ)||²</div>
<div class="sb" style="left:281.90px;top:543.30px;font-size:104.0px;transform:scale(0.1) translateY(-87.0px)">(f)</div>
<div class="sr" style="left:295.20px;top:543.30px;font-size:79.0px;transform:scale(0.1191,0.1) translateY(-66.1px)">F-norm of ResNet56</div>
</body></html>
